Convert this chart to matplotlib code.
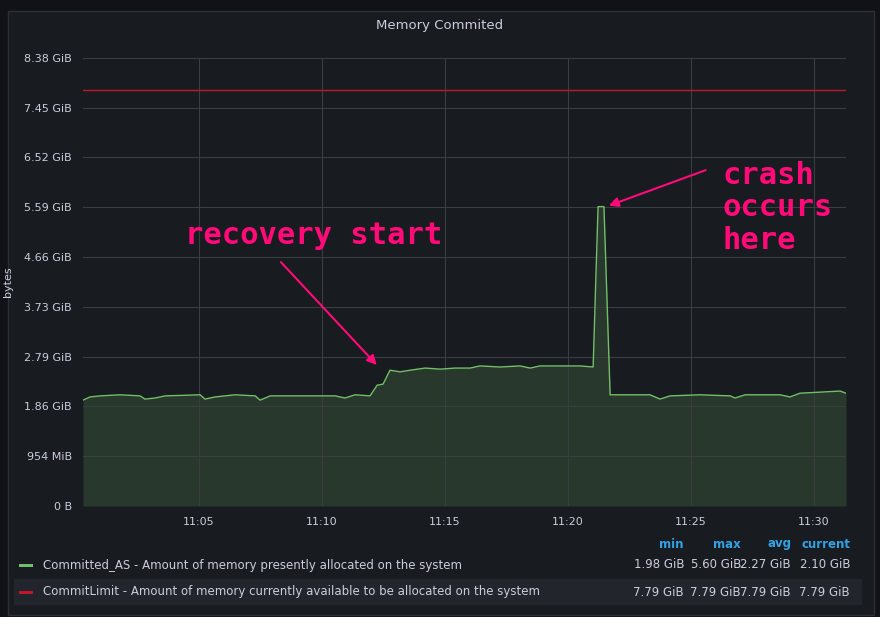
import matplotlib
matplotlib.use("Agg")
import matplotlib.pyplot as plt
from matplotlib.patches import Rectangle

# minutes after 11:00
times = [0.28,0.57,0.98,1.79,2.60,2.80,3.21,3.62,5.04,5.24,5.65,6.46,7.28,7.48,7.89,9.11,
         10.53,10.93,11.34,11.95,12.24,12.48,12.76,13.17,13.58,14.19,14.80,15.41,16.02,16.42,
         17.24,18.05,18.46,18.86,19.67,20.49,21.02,21.22,21.46,21.71,22.11,23.33,23.74,24.15,
         25.37,26.59,26.79,27.20,28.62,29.02,29.43,31.06,31.30]
committed = [1.98,2.04,2.06,2.08,2.06,2.00,2.02,2.06,2.08,2.00,2.04,2.08,2.06,1.98,2.06,2.06,
             2.06,2.02,2.08,2.06,2.26,2.28,2.54,2.51,2.54,2.58,2.56,2.58,2.58,2.62,
             2.60,2.62,2.58,2.62,2.62,2.62,2.60,5.60,5.60,2.08,2.08,2.08,2.00,2.06,
             2.08,2.06,2.02,2.08,2.08,2.04,2.11,2.15,2.11]
commit_limit = 7.79
ytick_vals = [0, 0.9313, 1.8626, 2.7940, 3.7253, 4.6566, 5.5879, 6.5193, 7.4506, 8.38]
ytick_labels = ["0 B","954 MiB","1.86 GiB","2.79 GiB","3.73 GiB","4.66 GiB","5.59 GiB","6.52 GiB","7.45 GiB","8.38 GiB"]
xtick_vals = [5,10,15,20,25,30]
xtick_labels = ["11:05","11:10","11:15","11:20","11:25","11:30"]
legend_rows = [("Committed_AS - Amount of memory presently allocated on the system","#73bf69",
                ["1.98 GiB","5.60 GiB","2.27 GiB","2.10 GiB"]),
               ("CommitLimit - Amount of memory currently available to be allocated on the system","#c4162a",
                ["7.79 GiB","7.79 GiB","7.79 GiB","7.79 GiB"])]

bg = "#181b1f"
txt = "#ccccdc"
fig = plt.figure(figsize=(8.8,6.17), dpi=100, facecolor="#111217")
fig.patches.append(Rectangle((8/880,2/617),866/880,604/617,transform=fig.transFigure,
                             facecolor=bg,edgecolor="#2c2f34",lw=1,zorder=-10))
ax = fig.add_axes([83/880, 1-506/617, 763/880, 448/617])
ax.set_facecolor(bg)
ax.fill_between(times, committed, color="#73bf69", alpha=0.18, lw=0)
ax.plot(times, committed, color="#73bf69", lw=1)
ax.plot([times[0], times[-1]], [commit_limit]*2, color="#c4162a", lw=1)
ax.set_xlim(times[0], times[-1]); ax.set_ylim(0, 8.38)
ax.set_yticks(ytick_vals, ytick_labels); ax.set_xticks(xtick_vals, xtick_labels)
ax.grid(True, color="#3a3d42", lw=0.8)
for s in ax.spines.values(): s.set_visible(False)
ax.tick_params(colors=txt, labelsize=8, length=0, pad=8)
ax.set_ylabel("bytes", color=txt, fontsize=8, labelpad=8)
fig.text(0.5, 1-25/617, "Memory Commited", color=txt, fontsize=9.5, ha="center", va="center")

pink = "#ff0a78"
mono = dict(family="DejaVu Sans Mono", fontweight="bold", fontsize=22, color=pink)
ax.text(185/880, 1-236/617, "recovery start", transform=fig.transFigure, va="center", **mono)
fig.text(722/880, 1-208/617, "crash\noccurs\nhere", va="center", linespacing=1.15, **mono)
ax.annotate("", xy=(12.3, 2.6), xytext=(8.25, 4.6),
            arrowprops=dict(arrowstyle="-|>", color=pink, lw=1.5, mutation_scale=14))
ax.annotate("", xy=(21.55, 5.6), xytext=(25.7, 6.3),
            arrowprops=dict(arrowstyle="-|>", color=pink, lw=1.5, mutation_scale=14))

blue = "#33a2e5"
cols = [668, 725, 775, 834]
for c, h in zip(cols, ["min","max","avg","current"]):
    fig.text((c+16)/880, 1-544/617, h, color=blue, fontsize=8.5, fontweight="bold", ha="right", va="center")
for i, (name, color, vals) in enumerate(legend_rows):
    y = 565 + 27*i
    if i == 1:
        fig.patches.append(Rectangle((14/880,1-(y+13)/617),848/880,26/617,transform=fig.transFigure,
                                     facecolor="#22252b",lw=0,zorder=-5))
    fig.patches.append(Rectangle((19/880,1-(y+1.5)/617),14/880,3/617,transform=fig.transFigure,
                                 facecolor=color,lw=0))
    fig.text(43/880, 1-y/617, name, color=txt, fontsize=8.5, va="center")
    for c, v in zip(cols, vals):
        fig.text((c+16)/880, 1-y/617, v, color=txt, fontsize=8.5, ha="right", va="center")
fig.savefig("out.png", dpi=100, facecolor=fig.get_facecolor())
